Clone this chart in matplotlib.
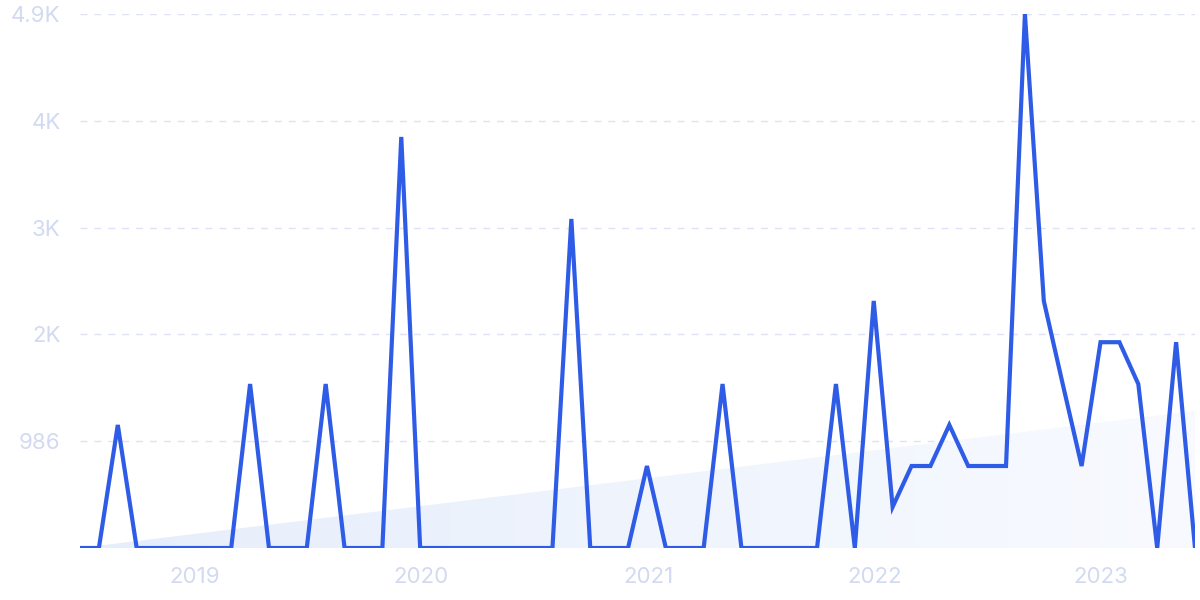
import matplotlib
matplotlib.use("Agg")
import matplotlib.pyplot as plt
import numpy as np
import pandas as pd
from matplotlib.colors import LinearSegmentedColormap

plt.rcParams["font.family"] = ["Inter", "DejaVu Sans"]

dates = pd.date_range("2018-07-01", periods=60, freq="MS")
values = [0, 0, 1136, 0, 0, 0, 0, 0, 0, 1514,
          0, 0, 0, 1514, 0, 0, 0, 3795, 0, 0,
          0, 0, 0, 0, 0, 0, 3038, 0, 0, 0,
          757, 0, 0, 0, 1514, 0, 0, 0, 0, 0,
          1514, 0, 2281, 379, 757, 757, 1136, 757, 757, 757,
          4930, 2281, 1514, 757, 1900, 1900, 1514, 0, 1900, 0]
yticks = [986, 1972, 2958, 3944, 4930]
ylabels = ["986", "2K", "3K", "4K", "4.9K"]

fig = plt.figure(figsize=(12, 6), dpi=100)
ax = fig.add_axes([80/1200, 52/600, 1115/1200, 534/600])
x = np.arange(len(values))
v = np.array(values, float)

k, b = np.polyfit(x, v, 1)
trend = np.clip(k * x + b, 0, None)
trend = trend - trend[0]
poly = ax.fill_between(x, 0, trend, color="none")
grad = np.linspace(0, 1, 256).reshape(1, -1)
cmap = LinearSegmentedColormap.from_list("g", ["#e6eefb", "#f8faff"])
im = ax.imshow(grad, extent=[0, len(x) - 1, 0, trend.max()], aspect="auto",
               cmap=cmap, zorder=1, origin="lower")
im.set_clip_path(poly.get_paths()[0], transform=ax.transData)

ax.plot(x, v, color="#2f5ce6", lw=3, zorder=3, solid_joinstyle="miter")
ax.set_xlim(0, len(x) - 1)
ax.set_ylim(0, 4930)
ax.set_yticks(yticks)
ax.set_yticklabels(ylabels)
years = [2019, 2020, 2021, 2022, 2023]
xt = [(pd.Timestamp(f"{y}-01-01") - dates[0]).days / 30.44 for y in years]
ax.set_xticks(xt)
ax.set_xticklabels([str(y) for y in years])
for s in ax.spines.values():
    s.set_visible(False)
ax.grid(axis="y", color="#dde3f5", ls=(0, (5, 5)), lw=1)
ax.tick_params(length=0, labelsize=16, labelcolor="#d2daf2")
ax.tick_params(axis="y", pad=14)
ax.tick_params(axis="x", pad=14)
ax.set_axisbelow(True)
fig.savefig("out.png", dpi=100)
